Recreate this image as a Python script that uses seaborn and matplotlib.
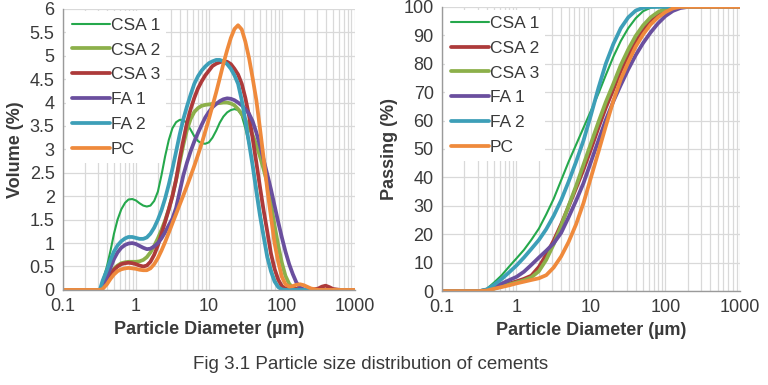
import numpy as np
import pandas as pd
import matplotlib
matplotlib.use("Agg")
import matplotlib.pyplot as plt
import matplotlib.ticker as mticker
import seaborn as sns

# --- particle sizes (um) ---
size_vol = [0.1, 0.28, 0.32, 0.35,
            0.4, 0.45, 0.5, 0.56, 0.63, 0.71, 0.79, 0.89,
            1.0, 1.12, 1.26, 1.41, 1.58, 1.78, 2.0, 2.24,
            2.51, 2.82, 3.16, 3.55, 3.98, 4.47, 5.01, 5.62,
            6.31, 7.08, 7.94, 8.91, 10, 11.2, 12.6, 14.1,
            15.8, 17.8, 20, 22.4, 25.1, 28.2, 31.6, 35.5,
            39.8, 44.7, 50.1, 56.2, 63.1, 70.8, 79.4, 89.1,
            100, 112, 126, 141, 158, 178, 200,
            251, 316, 355, 398, 447, 501, 631, 1000]
size_cum = [0.1, 0.25, 0.32, 0.4, 0.5, 0.63, 0.79, 1.0, 1.26, 1.58, 2.0, 2.51, 3.16, 3.98, 5.01, 6.31,
            7.94, 10, 12.6, 15.8, 20, 25.1, 31.6, 39.8, 50.1, 63.1, 79.4, 100, 126, 158, 200, 1000]

# --- volume (%) per size class ---
vol_csa1 = [0, 0, 0, 0.2,
            0.5, 0.85, 1.2, 1.5, 1.72, 1.86, 1.93, 1.94,
            1.91, 1.85, 1.8, 1.78, 1.8, 1.9, 2.1, 2.45,
            2.85, 3.2, 3.45, 3.58, 3.63, 3.63, 3.55, 3.42,
            3.28, 3.18, 3.13, 3.12, 3.15, 3.25, 3.4, 3.57,
            3.7, 3.79, 3.84, 3.86, 3.84, 3.72, 3.45, 3.1,
            2.7, 2.2, 1.68, 1.2, 0.75, 0.45, 0.22, 0.08,
            0.02, 0, 0, 0, 0, 0, 0,
            0, 0, 0, 0, 0, 0, 0, 0]
vol_csa2 = [0, 0, 0, 0.07,
            0.2, 0.35, 0.45, 0.52, 0.57, 0.59, 0.6, 0.6,
            0.6, 0.61, 0.64, 0.7, 0.8, 0.94, 1.1, 1.28,
            1.48, 1.72, 2.0, 2.35, 2.72, 3.1, 3.42, 3.65,
            3.8, 3.88, 3.93, 3.95, 3.96, 3.97, 3.98, 3.99,
            4.0, 4.0, 3.98, 3.94, 3.86, 3.76, 3.63, 3.48,
            3.3, 3.1, 2.85, 2.58, 2.28, 1.85, 1.38, 0.95,
            0.58, 0.3, 0.13, 0.05, 0.02, 0, 0,
            0, 0, 0, 0, 0, 0, 0, 0]
vol_csa3 = [0, 0, 0, 0.08,
            0.2, 0.33, 0.43, 0.5, 0.55, 0.57, 0.58, 0.57,
            0.55, 0.52, 0.5, 0.52, 0.6, 0.75, 0.95, 1.2,
            1.45, 1.72, 2.0, 2.35, 2.8, 3.2, 3.57, 3.86,
            4.1, 4.3, 4.45, 4.58, 4.68, 4.78, 4.83, 4.86,
            4.88, 4.87, 4.82, 4.72, 4.6, 4.4, 4.1, 3.72,
            3.23, 2.72, 2.2, 1.7, 1.25, 0.78, 0.45, 0.22,
            0.08, 0.03, 0.02, 0.02, 0.02, 0.01, 0,
            0, 0.03, 0.07, 0.09, 0.06, 0.02, 0, 0]
vol_fa1 = [0, 0, 0, 0.08,
           0.27, 0.48, 0.66, 0.8, 0.9, 0.96, 0.99, 1.0,
           0.98, 0.94, 0.9, 0.87, 0.88, 0.93, 1.0, 1.1,
           1.23, 1.38, 1.52, 1.75, 2.1, 2.45, 2.72, 2.96,
           3.17, 3.35, 3.52, 3.68, 3.8, 3.9, 3.97, 4.03,
           4.07, 4.09, 4.08, 4.05, 4.0, 3.94, 3.86, 3.76,
           3.6, 3.36, 3.08, 2.78, 2.47, 2.15, 1.8, 1.45,
           1.12, 0.82, 0.55, 0.34, 0.16, 0.05, 0.01,
           0, 0, 0, 0, 0, 0, 0, 0]
vol_fa2 = [0, 0, 0, 0.2,
           0.42, 0.65, 0.82, 0.95, 1.04, 1.1, 1.13, 1.13,
           1.11, 1.09, 1.09, 1.12, 1.2, 1.33, 1.5, 1.7,
           1.95, 2.25, 2.58, 2.95, 3.32, 3.65, 3.92, 4.17,
           4.4, 4.56, 4.68, 4.77, 4.84, 4.88, 4.91, 4.91,
           4.88, 4.82, 4.72, 4.58, 4.4, 4.05, 3.62, 3.13,
           2.65, 2.1, 1.59, 1.14, 0.7, 0.4, 0.18, 0.06,
           0.01, 0, 0, 0, 0, 0, 0,
           0, 0, 0, 0, 0, 0, 0, 0]
vol_pc = [0, 0, 0, 0.02,
          0.12, 0.24, 0.33, 0.4, 0.44, 0.46, 0.47, 0.46,
          0.45, 0.43, 0.42, 0.42, 0.46, 0.55, 0.68, 0.84,
          1.02, 1.22, 1.42, 1.62, 1.82, 2.02, 2.22, 2.43,
          2.65, 2.88, 3.12, 3.38, 3.65, 3.93, 4.22, 4.52,
          4.83, 5.12, 5.38, 5.57, 5.65, 5.56, 5.3, 4.95,
          4.52, 4.05, 3.45, 2.82, 2.15, 1.57, 1.0, 0.6,
          0.28, 0.12, 0.07, 0.08, 0.11, 0.12, 0.1,
          0.03, 0, 0, 0, 0, 0, 0, 0]

# --- cumulative passing (%) ---
cum_csa1 = [0, 0, 0, 0.8, 3, 5.5, 8.5, 11.5, 14.5, 18, 22, 27, 32.5, 39, 45.5, 51.5,
            57.5, 63.5, 69.5, 76, 82.5, 88, 92.5, 96, 98.5, 99.7, 100, 100, 100, 100, 100, 100]
cum_csa2 = [0, 0, 0, 0.3, 1.0, 1.8, 2.6, 3.4, 4.3, 5.4, 8.5, 12.8, 17.8, 23.5, 29.8, 36.2,
            42.8, 50, 57.5, 64.5, 71, 77.5, 83, 88, 92, 95, 97.2, 98.7, 99.6, 100, 100, 100]
cum_csa3 = [0, 0, 0, 0.3, 0.9, 1.6, 2.3, 3.0, 3.8, 4.8, 7, 11, 16.5, 23, 30, 37,
            44.5, 52, 59.5, 66.5, 73, 79.5, 85, 89.8, 93.5, 96.3, 98.2, 99.3, 99.8, 100, 100, 100]
cum_fa1 = [0, 0, 0, 0.4, 1.5, 2.6, 3.8, 5, 6.8, 9.2, 11.8, 14.2, 16.8, 20.5, 26, 31.8,
           38, 45.5, 53, 60.2, 66.8, 72.5, 78, 83, 87.3, 91, 94.2, 96.8, 98.6, 99.6, 100, 100]
cum_fa2 = [0, 0, 0, 0.6, 2.2, 4.2, 6.5, 9, 11.8, 14.8, 18, 21.8, 26.5, 32, 38.5, 45.5,
           53, 62, 71.5, 80, 87, 92.5, 96.3, 98.7, 99.7, 100, 100, 100, 100, 100, 100, 100]
cum_pc = [0, 0, 0, 0.2, 0.8, 1.4, 2.0, 2.7, 3.3, 3.9, 4.5, 5.6, 8.3, 12.2, 17.3, 23.5,
          31, 40, 49, 58, 67, 74.5, 80.5, 86, 90.3, 93.8, 96.3, 98.2, 99.5, 100, 100, 100]

green = "#25a84c"
olive = "#8cb04a"
red = "#ad3a3a"
purple = "#6a4f9e"
teal = "#3d9fb8"
orange = "#ef8a3c"

vol_series = [("CSA 1", vol_csa1, green), ("CSA 2", vol_csa2, olive), ("CSA 3", vol_csa3, red),
              ("FA 1", vol_fa1, purple), ("FA 2", vol_fa2, teal), ("PC", vol_pc, orange)]
cum_series = [("CSA 1", cum_csa1, green), ("CSA 2", cum_csa2, red), ("CSA 3", cum_csa3, olive),
              ("FA 1", cum_fa1, purple), ("FA 2", cum_fa2, teal), ("PC", cum_pc, orange)]

sns.set_style("white")
plt.rcParams['font.family'] = ['Liberation Sans', 'DejaVu Sans']
narrow = ['Liberation Sans Narrow', 'Liberation Sans', 'DejaVu Sans']
txt = "#3a3a3a"

fig = plt.figure(figsize=(7.68, 3.85), dpi=100)
ax1 = fig.add_axes([0.082, 0.247, 0.380, 0.730])
ax2 = fig.add_axes([0.5755, 0.244, 0.388, 0.738])


def draw(ax, sizes, series, ylim, ystep, ylabel):
    df = pd.DataFrame({"size": sizes})
    for name, vals, col in series:
        lw = 1.5 if name == "CSA 1" else 2.7
        sns.lineplot(x=df["size"], y=vals, ax=ax, color=col, linewidth=lw, label=name,
                     solid_capstyle="round", solid_joinstyle="round")
    ax.set_xscale("log")
    ax.set_xlim(0.1, 1000)
    ax.set_ylim(*ylim)
    ax.set_yticks(np.arange(ylim[0], ylim[1] + ystep / 2, ystep))
    ax.xaxis.set_major_locator(mticker.FixedLocator([0.1, 1, 10, 100, 1000]))
    ax.xaxis.set_major_formatter(mticker.FuncFormatter(lambda v, p: f"{v:g}"))
    ax.xaxis.set_minor_locator(mticker.LogLocator(base=10, subs=np.arange(2, 10)))
    ax.xaxis.set_minor_formatter(mticker.NullFormatter())
    ax.yaxis.set_major_formatter(mticker.FuncFormatter(lambda v, p: f"{v:g}"))
    ax.grid(True, which="both", axis="x", color="#d9d9d9", lw=0.9)
    ax.grid(True, which="major", axis="y", color="#d9d9d9", lw=0.9)
    ax.set_axisbelow(True)
    for s in ["top", "right"]:
        ax.spines[s].set_visible(False)
    for s in ["left", "bottom"]:
        ax.spines[s].set_color("#9a9a9a")
        ax.spines[s].set_linewidth(1.0)
    ax.tick_params(axis="both", which="both", length=0, labelsize=13, colors=txt, pad=6)
    ax.set_xlabel("Particle Diameter (µm)", fontsize=13, fontweight="bold", family=narrow,
                  color=txt, labelpad=4)
    ax.set_ylabel(ylabel, fontsize=13, fontweight="bold", family=narrow, color=txt, labelpad=4)
    leg = ax.legend(loc="upper left", bbox_to_anchor=(0.0, 1.0), fontsize=12.5, frameon=True,
                    facecolor="white", edgecolor="none", framealpha=1, fancybox=False,
                    handlelength=2.2, handletextpad=0.05, labelspacing=0.56, borderpad=0.35,
                    borderaxespad=0.15)
    leg.set_zorder(1.8)
    for t in leg.get_texts():
        t.set_color(txt)


draw(ax1, size_vol, vol_series, (0, 6), 0.5, "Volume (%)")
draw(ax2, size_cum, cum_series, (0, 100), 10, "Passing (%)")

fig.text(0.482, 0.052, "Fig 3.1 Particle size distribution of cements", ha="center", va="center",
         fontsize=13.5, color=txt)

fig.savefig("out.png", dpi=100)
